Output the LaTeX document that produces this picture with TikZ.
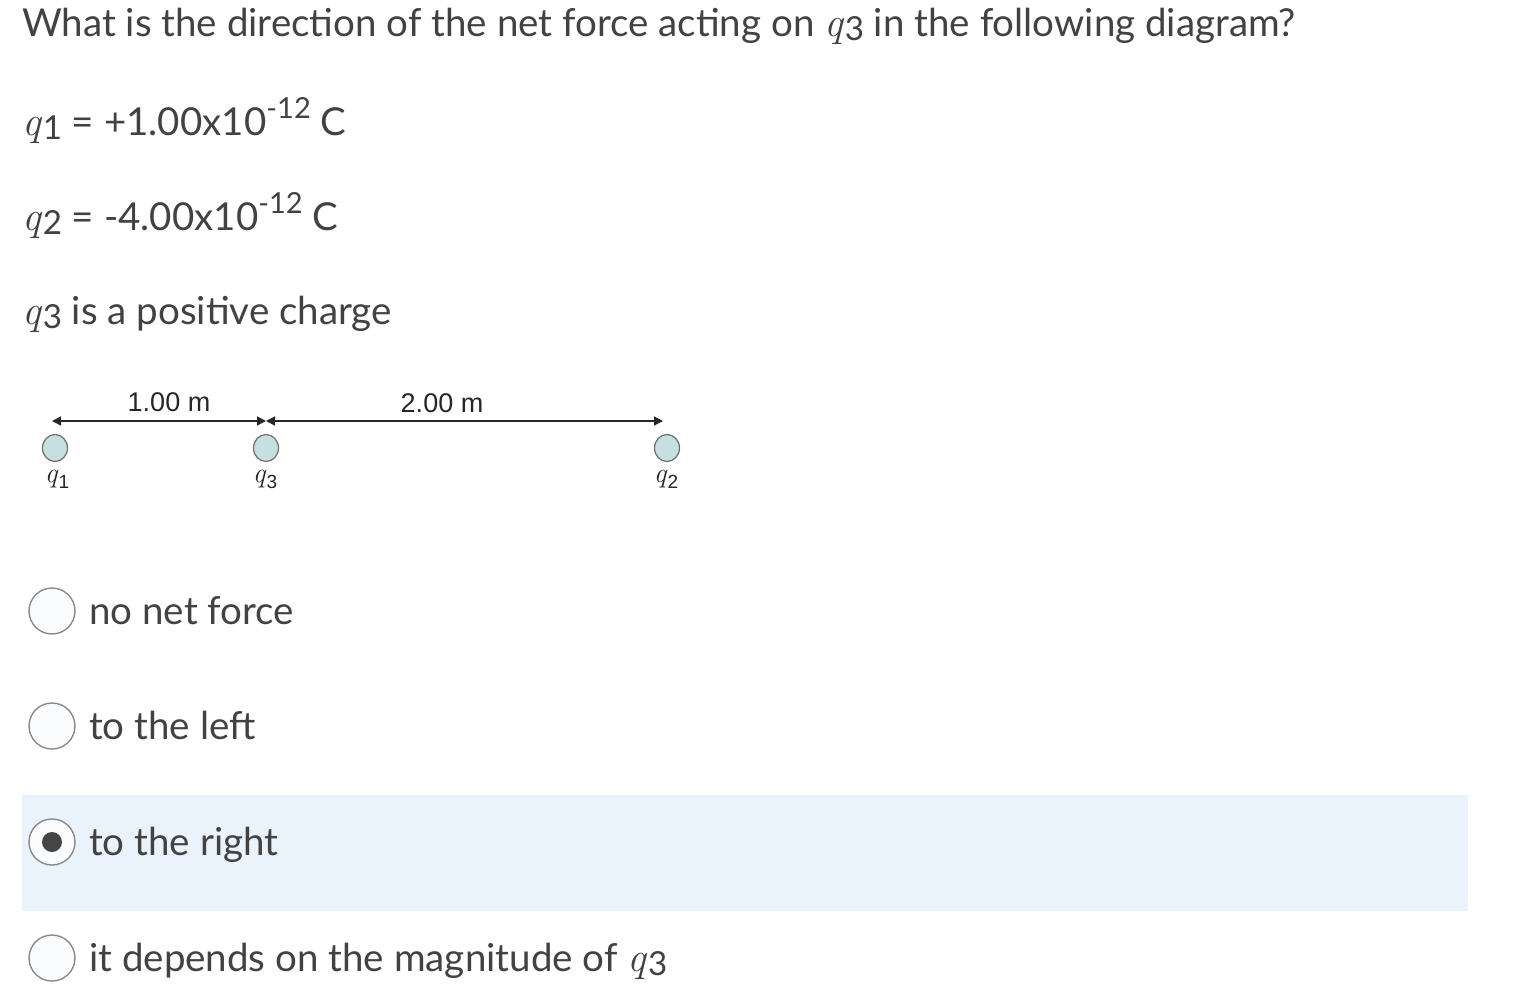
\documentclass[tikz,border=0pt]{standalone}
\usepackage{fontspec}
\setmainfont{Lato}
\newfontfamily\arialfont{Liberation Sans}
\usetikzlibrary{arrows.meta,shapes.geometric}
\definecolor{txt}{HTML}{424242}
\definecolor{chargefill}{HTML}{C6DFE0}
\definecolor{chargeline}{HTML}{6E6E6E}
\definecolor{radioline}{HTML}{8A8A8A}
\definecolor{radiofill}{HTML}{FAFBFD}
\definecolor{dotcol}{HTML}{454545}
\definecolor{bandcol}{HTML}{EAF2FB}
\makeatletter
% q with subscript as printed in the question text
\newcommand\qsub[1]{{\fontfamily{lmr}\fontsize{\fpeval{1.08*\f@size}}{1}\selectfont\itshape q\/}\kern0.5pt\raisebox{-0.12em}{\fontsize{\fpeval{0.86*\f@size}}{1}\selectfont #1}}
% q with subscript as printed in the diagram
\newcommand\qlab[1]{{\fontfamily{lmr}\selectfont\itshape q\/}\raisebox{-0.22em}{\arialfont\fontsize{\fpeval{0.68*\f@size}}{1}\selectfont #1}}
\makeatother
\newcommand\mysup[1]{\raisebox{0.42em}{\fontsize{29}{29}\selectfont #1}}
\begin{document}
\begin{tikzpicture}[x=1pt,y=-1pt,
  txtnode/.style={anchor=base west, inner sep=0, text=txt, font=\fontsize{38.5}{44}\selectfont},
  qline/.style={txtnode},
  opt/.style={txtnode},
  dimlabel/.style={anchor=base, inner sep=0, text=black!85, font=\arialfont\fontsize{27}{30}\selectfont},
  qlabel/.style={anchor=base, inner sep=0, text=black!85, font=\fontsize{28}{30}\selectfont},
  charge/.style={ellipse, draw=chargeline, fill=chargefill, minimum width=25pt, minimum height=27pt, inner sep=0, line width=1.2pt},
  radio/.style={circle, draw=radioline, fill=radiofill, minimum size=46pt, inner sep=0, line width=1.4pt},
  radiodot/.style={circle, fill=dotcol, minimum size=20pt, inner sep=0},
  dimarrow/.style={{Triangle[length=9pt,width=9pt]}-{Triangle[length=9pt,width=9pt]}, line width=1.4pt, draw=black!85}
]
\useasboundingbox[fill=white] (0,0) rectangle (1517,1002);

% title and data
\node[txtnode] (title) at (22,36) {What is the direction of the net force acting on \qsub{3} in the following diagram?};
\node[qline] (l1) at (22,135) {\qsub{1} = +1.00x10\mysup{-12} C};
\node[qline] (l2) at (22,230) {\qsub{2} = -4.00x10\mysup{-12} C};
\node[qline] (l3) at (22,324) {\qsub{3} is a positive charge};

% diagram
\coordinate (a1) at (52,421);
\coordinate (a3) at (266,421);
\coordinate (a2) at (663,421);
\draw[dimarrow] (a1) -- (a3);
\draw[dimarrow] (a3) -- (a2);
\node[dimlabel] (d1) at (169,411) {1.00 m};
\node[dimlabel] (d2) at (442,412) {2.00 m};
\node[charge] (q1) at (55,448) {};
\node[charge] (q3) at (266,448) {};
\node[charge] (q2) at (667,448) {};
\node[qlabel] (n1) at (57,482) {\qlab{1}};
\node[qlabel] (n3) at (265,482) {\qlab{3}};
\node[qlabel] (n2) at (666,482) {\qlab{2}};

% answer options
\fill[bandcol] (22,795) rectangle (1468,911);
\node[radio] (r1) at (52,611) {};
\node[radio] (r2) at (52,726) {};
\node[radio] (r3) at (52,842) {};
\node[radiodot] (r3dot) at (r3) {};
\node[radio] (r4) at (52,958) {};
\node[opt] (o1) at (89,624) {no net force};
\node[opt] (o2) at (89,739) {to the left};
\node[opt] (o3) at (89,855) {to the right};
\node[opt] (o4) at (89,971) {it depends on the magnitude of \qsub{3}};
\end{tikzpicture}
\end{document}
